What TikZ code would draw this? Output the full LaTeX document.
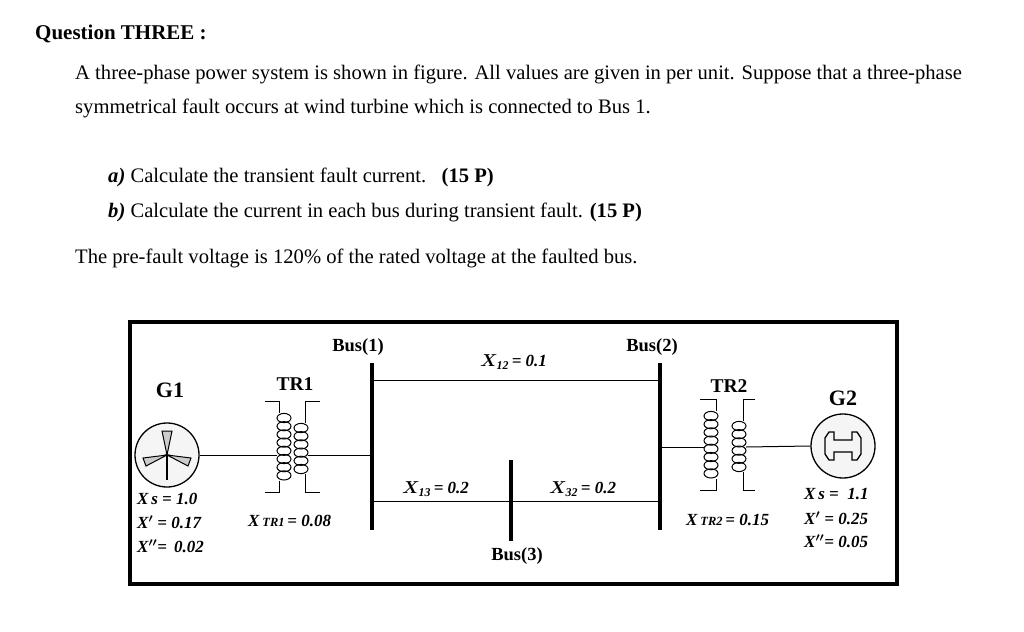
\documentclass[tikz,border=0pt]{standalone}
\usepackage{fontspec}
\setmainfont{Liberation Serif}
\begin{document}
\begin{tikzpicture}[x=1pt,y=-1pt,
  txt/.style={anchor=west,inner sep=0pt,font=\fontsize{20.6}{22}\selectfont},
  lbl/.style={inner sep=0pt,font=\fontsize{18.5}{20}\selectfont\bfseries},
  val/.style={anchor=west,inner sep=0pt,font=\fontsize{17}{19}\selectfont\bfseries\itshape\boldmath},
  bus/.style={line width=3.2pt},
  wire/.style={line width=1pt},
  gen/.style={circle,draw,fill=gray!8,line width=1.3pt,minimum size=64pt,inner sep=0pt}]
\useasboundingbox (0,0) rectangle (1024,631);
\node[txt,font=\fontsize{21}{22}\selectfont\bfseries] (q) at (35,34) {Question THREE :};
\node[txt] (p1) at (75,74) {A three-phase power system is shown in figure. All values are given in per unit. Suppose that a three-phase};
\node[txt] (p2) at (75,108) {symmetrical fault occurs at wind turbine which is connected to Bus 1.};
\node[txt] (qa) at (108,177) {\textbf{\itshape a)} Calculate the transient fault current.\ \ \ \textbf{(15 P)}};
\node[txt] (qb) at (108,212) {\textbf{\itshape b)} Calculate the current in each bus during transient fault. \textbf{(15 P)}};
\node[txt] (p3) at (75,258) {The pre-fault voltage is 120\% of the rated voltage at the faulted bus.};
% frame
\draw[line width=3.5pt] (130,322) rectangle (897,584);
% buses
\coordinate (b1t) at (372,363); \coordinate (b1b) at (372,530);
\coordinate (b2t) at (660,363); \coordinate (b2b) at (660,530);
\coordinate (b3t) at (511,460); \coordinate (b3b) at (511,541);
\draw[bus] (b1t)--(b1b); \draw[bus] (b2t)--(b2b); \draw[bus] (b3t)--(b3b);
\node[lbl] (B1) at (358,347) {Bus(1)};
\node[lbl] (B2) at (652,347) {Bus(2)};
\node[lbl] (B3) at (517,556) {Bus(3)};
% lines
\coordinate (l12a) at (372,380); \coordinate (l12b) at (660,380);
\draw[wire] (l12a)--(l12b);
\coordinate (l13a) at (372,501); \coordinate (l13b) at (660,501);
\draw[wire] (l13a)--(l13b);
\node[val] (x12) at (480,362) {$X_{\mathit{12}}$\,= 0.1};
\node[val] (x13) at (402,489) {$X_{\mathit{13}}$\,= 0.2};
\node[val] (x32) at (549,489) {$X_{\mathit{32}}$\,= 0.2};
% G1
\node[gen] (G1) at (167,455) {};
\node[lbl,font=\fontsize{22}{22}\selectfont\bfseries] (g1l) at (170,390) {G1};
\draw[line width=1.2pt] (167,455)--(167,480);
\draw[line width=1pt,fill=gray!40] (167,455)--(162,431)--(172,431)--cycle;
\draw[line width=1pt,fill=gray!40] (167,455)--(146,466)--(143,458)--cycle;
\draw[line width=1pt,fill=gray!40] (167,455)--(188,466)--(191,458)--cycle;
% coils
\newcommand{\coilpath}[3]{%
  \foreach \i in {0,...,\numexpr#3-1\relax}{\draw[line width=1pt] (#1,#2+\i*8.2) ellipse (7 and 4.6);}}
% TR1
\draw[wire] (265,401)--(279,401)--(279,413);
\draw[wire] (265,492)--(279,492)--(279,481);
\coilpath{284}{418}{8}
\draw[wire] (320,401)--(305,401)--(305,423);
\draw[wire] (320,492)--(305,492)--(305,474);
\coilpath{301}{428}{6}
\node[lbl,font=\fontsize{19.5}{20}\selectfont\bfseries] (tr1l) at (295,384) {TR1};
\coordinate (t1p) at (277,455); \coordinate (t1s) at (308,455);
\draw[wire] (G1.east)--(t1p);
\draw[wire] (t1s)--(372,455);
\node[val] (xt1) at (248,521) {X\,{\fontsize{12.5}{13}\selectfont TR1}\,= 0.08};
\node[val] (g1a) at (137,499) {X\,s = 1.0};
\node[val] (g1b) at (137,522) {X$'$\ = 0.17};
\node[val] (g1c) at (137,546) {X$''$= \,0.02};
% TR2
\draw[wire] (700,399)--(716,399)--(716,411);
\draw[wire] (700,490)--(716,490)--(716,479);
\coilpath{711}{416}{8}
\draw[wire] (755,399)--(743,399)--(743,421);
\draw[wire] (755,490)--(743,490)--(743,472);
\coilpath{739}{426}{6}
\node[lbl,font=\fontsize{19.5}{20}\selectfont\bfseries] (tr2l) at (729,386) {TR2};
\coordinate (t2p) at (704,447); \coordinate (t2s) at (746,447);
\draw[wire] (660,447)--(t2p);
\node[gen] (G2) at (843,446) {};
\draw[wire] (t2s)--(G2.west);
\node[lbl,font=\fontsize{22}{22}\selectfont\bfseries] (g2l) at (843,398) {G2};
\draw[line width=1.3pt] (825,438)--(829,432)--(834,432)--(834,440)--(852,440)--(852,432)--(857,432)--(861,438)--(861,454)--(857,460)--(852,460)--(852,452)--(834,452)--(834,460)--(829,460)--(825,454)--cycle;
\node[val] (xt2) at (686,520) {X\,{\fontsize{12.5}{13}\selectfont TR2}\,= 0.15};
\node[val] (g2a) at (804,494) {X\,s = \ 1.1};
\node[val] (g2b) at (804,518) {X$'$\ = 0.25};
\node[val] (g2c) at (804,541) {X$''$= 0.05};
\end{tikzpicture}
\end{document}
